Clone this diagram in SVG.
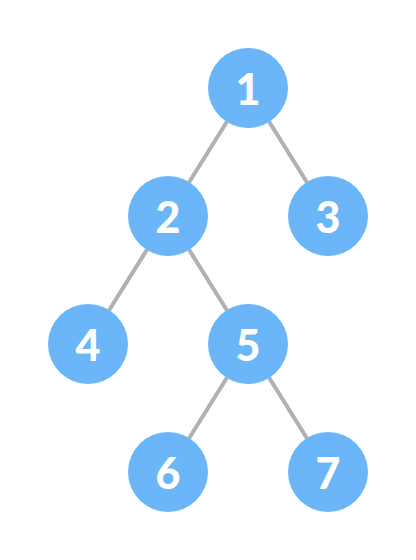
<svg xmlns="http://www.w3.org/2000/svg" width="416" height="560" viewBox="0 0 416 560">
<style>
.edge{stroke:#b0b0b0;stroke-width:4;fill:none}
.node circle{fill:#6bb5f9}
.node text{fill:#ffffff;font-family:Lato,"Noto Sans",sans-serif;font-weight:900;font-size:43px;text-anchor:middle}
</style>
<rect width="416" height="560" fill="#ffffff"/>
<g id="edges">
<line class="edge" x1="248" y1="88" x2="168" y2="216"/>
<line class="edge" x1="248" y1="88" x2="328" y2="216"/>
<line class="edge" x1="168" y1="216" x2="88" y2="344"/>
<line class="edge" x1="168" y1="216" x2="248" y2="344"/>
<line class="edge" x1="248" y1="344" x2="168" y2="472"/>
<line class="edge" x1="248" y1="344" x2="328" y2="472"/>
</g>
<g id="node1" class="node"><circle cx="248" cy="88" r="40"/><text x="248" y="105">1</text></g>
<g id="node2" class="node"><circle cx="168" cy="216" r="40"/><text x="168" y="233">2</text></g>
<g id="node3" class="node"><circle cx="328" cy="216" r="40"/><text x="328" y="233">3</text></g>
<g id="node4" class="node"><circle cx="88" cy="344" r="40"/><text x="88" y="361">4</text></g>
<g id="node5" class="node"><circle cx="248" cy="344" r="40"/><text x="248" y="361">5</text></g>
<g id="node6" class="node"><circle cx="168" cy="472" r="40"/><text x="168" y="489">6</text></g>
<g id="node7" class="node"><circle cx="328" cy="472" r="40"/><text x="328" y="489">7</text></g>
</svg>
